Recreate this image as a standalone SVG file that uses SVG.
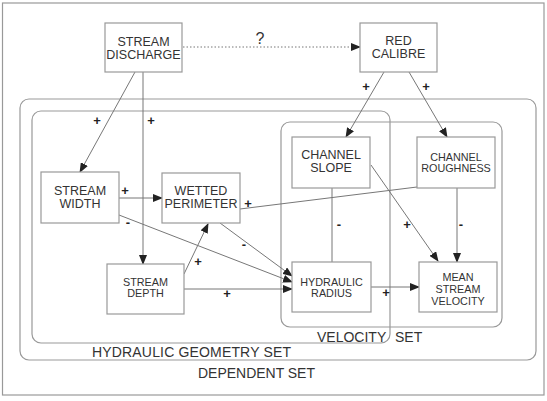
<svg xmlns="http://www.w3.org/2000/svg" width="547" height="401" viewBox="0 0 547 401">
<defs>
<marker id="ah" markerWidth="10" markerHeight="8" refX="9" refY="4" orient="auto" markerUnits="userSpaceOnUse">
<path d="M0,0 L10,4 L0,8 Z" fill="#222"/>
</marker>
<style>
.box{fill:#fff;stroke:#999;stroke-width:1.2}
.set{fill:none;stroke:#999;stroke-width:1.2}
.c{stroke:#777;stroke-width:1;fill:none}
.a{marker-end:url(#ah)}
.t{font-family:"Liberation Sans",Arial,sans-serif;fill:#333;text-anchor:middle}
.b{font-size:12.5px}
.s{font-size:10.8px}
.lbl{font-family:"Liberation Sans",Arial,sans-serif;fill:#222;text-anchor:middle;font-size:13px;font-weight:bold}
.q{font-family:"Liberation Sans",Arial,sans-serif;fill:#333;text-anchor:middle;font-size:16px}
.setlbl{font-family:"Liberation Sans",Arial,sans-serif;fill:#333;font-size:14px}
</style>
</defs>
<rect x="0" y="0" width="547" height="401" fill="#fff"/>
<rect x="2.5" y="3" width="541.5" height="392" fill="none" stroke="#999" stroke-width="1.2"/>
<g id="sets">
<rect class="set" x="20" y="99" width="516" height="261" rx="9"/>
<rect class="set" x="32" y="111" width="358" height="232" rx="9"/>
<rect class="set" x="281" y="122" width="221" height="205" rx="9"/>
<text class="setlbl" x="92" y="357" textLength="199">HYDRAULIC GEOMETRY SET</text>
<text class="setlbl" x="198" y="378" textLength="117">DEPENDENT SET</text>
<text class="setlbl" x="317" y="342">VELOCITY</text>
<text class="setlbl" x="395" y="342">SET</text>
</g>
<g id="connectors">
<line class="c a" x1="183" y1="47" x2="360" y2="47" stroke-dasharray="1.5,2"/>
<line class="c a" x1="135" y1="72" x2="80" y2="172"/>
<line class="c a" x1="143" y1="72" x2="143" y2="264"/>
<line class="c a" x1="384" y1="72" x2="346" y2="137"/>
<line class="c a" x1="409" y1="72" x2="447" y2="137"/>
<line class="c a" x1="119" y1="198" x2="162" y2="198"/>
<line class="c a" x1="119" y1="215" x2="292" y2="282"/>
<line class="c a" x1="220" y1="223" x2="292" y2="276"/>
<line class="c a" x1="184" y1="274" x2="208" y2="224"/>
<line class="c a" x1="184" y1="289" x2="292" y2="289"/>
<line class="c" x1="240" y1="209" x2="417" y2="187"/>
<line class="c" x1="332" y1="188" x2="332" y2="262"/>
<line class="c a" x1="371" y1="165" x2="438" y2="261"/>
<line class="c a" x1="457" y1="188" x2="457" y2="262"/>
<line class="c a" x1="371" y1="287" x2="419" y2="287"/>
<text class="q" x="260" y="44">?</text>
<text class="lbl" x="97" y="125">+</text>
<text class="lbl" x="151" y="125">+</text>
<text class="lbl" x="366" y="91">+</text>
<text class="lbl" x="426" y="91">+</text>
<text class="lbl" x="125" y="195">+</text>
<text class="lbl" x="128" y="227">-</text>
<text class="lbl" x="248" y="208">+</text>
<text class="lbl" x="244" y="249">-</text>
<text class="lbl" x="198" y="266">+</text>
<text class="lbl" x="227" y="298">+</text>
<text class="lbl" x="339" y="229">-</text>
<text class="lbl" x="407" y="229">+</text>
<text class="lbl" x="461" y="229">-</text>
<text class="lbl" x="386" y="297">+</text>
</g>
<g id="stream-discharge">
<rect class="box" x="105" y="23" width="77" height="49"/>
<text class="t b" x="143.5" y="46">STREAM</text>
<text class="t b" x="143.5" y="59">DISCHARGE</text>
</g>
<g id="red-calibre">
<rect class="box" x="360" y="23" width="77" height="49"/>
<text class="t b" x="398.5" y="45">RED</text>
<text class="t b" x="398.5" y="58">CALIBRE</text>
</g>
<g id="stream-width">
<rect class="box" x="41" y="172" width="78" height="51"/>
<text class="t b" x="80" y="195">STREAM</text>
<text class="t b" x="80" y="208">WIDTH</text>
</g>
<g id="wetted-perimeter">
<rect class="box" x="162" y="173" width="78" height="50"/>
<text class="t b" x="201" y="195">WETTED</text>
<text class="t b" x="201" y="208">PERIMETER</text>
</g>
<g id="stream-depth">
<rect class="box" x="107" y="264" width="77" height="50"/>
<text class="t s" x="145.5" y="286">STREAM</text>
<text class="t s" x="145.5" y="297">DEPTH</text>
</g>
<g id="channel-slope">
<rect class="box" x="292" y="137" width="78" height="51"/>
<text class="t b" x="331" y="159">CHANNEL</text>
<text class="t b" x="331" y="172">SLOPE</text>
</g>
<g id="channel-roughness">
<rect class="box" x="417" y="137" width="78" height="51"/>
<text class="t s" x="456" y="161">CHANNEL</text>
<text class="t s" x="456" y="172">ROUGHNESS</text>
</g>
<g id="hydraulic-radius">
<rect class="box" x="292" y="262" width="79" height="50"/>
<text class="t s" x="331.5" y="286">HYDRAULIC</text>
<text class="t s" x="331.5" y="297">RADIUS</text>
</g>
<g id="mean-stream-velocity">
<rect class="box" x="419" y="262" width="78" height="50"/>
<text class="t s" x="458" y="281">MEAN</text>
<text class="t s" x="458" y="293">STREAM</text>
<text class="t s" x="458" y="305">VELOCITY</text>
</g>
</svg>
